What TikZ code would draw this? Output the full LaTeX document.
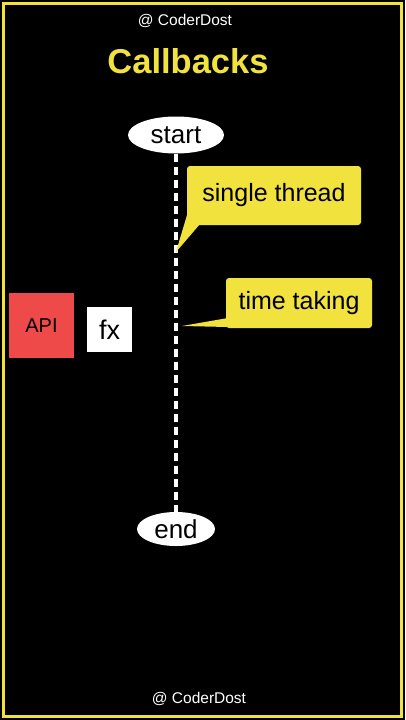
\documentclass[tikz,border=0pt]{standalone}
\usepackage{fontspec}
\setmainfont{Liberation Sans}
\usetikzlibrary{shapes.geometric}
\definecolor{cyel}{HTML}{F2E23E}
\definecolor{cred}{HTML}{EE4A4A}
\begin{document}
\begin{tikzpicture}[x=1pt,y=-1pt,
  fs/.style={font=\fontsize{#1}{#1}\selectfont},
  oval/.style={ellipse, fill=white, inner sep=0pt, text=black},
  callout/.style={fill=cyel, rounded corners=3pt, text=black, inner sep=0pt, fs=25},
  sq/.style={inner sep=0pt, text=black}]
\useasboundingbox (0,0) rectangle (405,720);
\fill[black] (0,0) rectangle (405,720);
\draw[cyel, line width=3pt] (3.5,3.5) rectangle (401.5,716);
\node[text=white, fs=15.5] (wm1) at (185,21) {@ CoderDost};
\node[text=cyel, font=\bfseries\fontsize{34.5}{34.5}\selectfont] (title) at (188,61) {Callbacks};
\node[oval, minimum width=96pt, minimum height=37pt, fs=26] (start) at (176,135) {start};
\node[oval, minimum width=78pt, minimum height=34pt, fs=26] (end) at (176,529) {end};
\draw[white, line width=4pt, dash pattern=on 8pt off 5pt] (start.south) -- (end.north);
\coordinate (t1) at (176,252);
\coordinate (t2) at (182,326);
\node[callout, minimum width=174pt, minimum height=59pt] (st) at (274,195.5) {single thread};
\fill[cyel] (187,215) -- (t1) -- (200,224) -- cycle;
\node[callout, minimum width=146pt, minimum height=50pt] (tt) at (299,303) {time taking};
\fill[cyel] (228,318) -- (t2) -- (228,327) -- cycle;
\node[sq, fill=cred, minimum width=65pt, minimum height=65pt, fs=20] (api) at (41.5,325.5) {API};
\node[sq, fill=white, minimum width=45pt, minimum height=45pt, fs=27] (fx) at (109.5,329.5) {fx};
\node[text=white, fs=15.5] (wm2) at (199,699) {@ CoderDost};
\end{tikzpicture}
\end{document}
